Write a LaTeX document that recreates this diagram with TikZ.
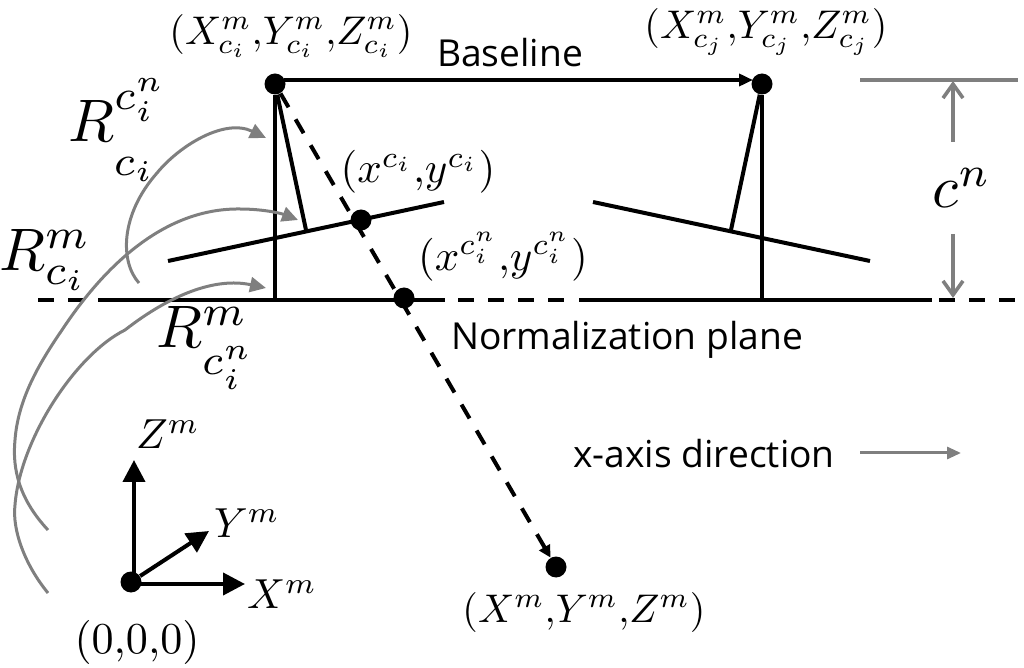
\documentclass[tikz,border=0pt]{standalone}
\usepackage[no-math]{fontspec}
\setsansfont{Open Sans}
\usetikzlibrary{
    arrows.meta,
    positioning,
    calc
}
\definecolor{arrowgray}{HTML}{7F7F7F}
\tikzset{
  dot/.style = {
      circle,
      fill=black,
      minimum size=10.5pt,
      inner sep=0pt
  },
  beam/.style = {
      line width=2pt,
      black
  },
  planedash/.style = {
      beam,
      dash pattern=on 8pt off 7pt
  },
  ray/.style = {
      beam,
      dash pattern=on 8pt off 7pt,
      -{Triangle[length=6pt,width=6pt]}
  },
  axis/.style = {
      beam,
      -{Triangle[length=11pt,width=11pt]}
  },
  graybeam/.style = {
      line width=2pt,
      arrowgray
  },
  sizearrow/.style = {
      graybeam,
      -{Straight Barb[length=7pt,width=10pt,line width=1.8pt]}
  },
  rotation/.style = {
      line width=1.5pt,
      arrowgray,
      -{Triangle[length=8pt,width=7.5pt]}
  },
  coordtext/.style = {
      scale=2,
      inner sep=0pt
  },
  imgtext/.style = {
      scale=2.15,
      inner sep=0pt
  },
  rottext/.style = {
      scale=3,
      inner sep=0pt
  },
  axistext/.style = {
      scale=2.1,
      inner sep=0pt
  },
  plaintext/.style = {
      font=\sffamily\fontsize{18.6}{22}\selectfont,
      inner sep=0pt
  }
}

\begin{document}
\begin{tikzpicture}[x=0.5pt,y=-0.5pt]
    \useasboundingbox (0,0) rectangle (1024,668);
    % Nodes
    \node[dot] (ci) at (275,84) {};
    \node[dot] (cj) at (762,84) {};
    \node[dot] (pimg) at (361,220) {};
    \node[dot] (pnorm) at (404,298) {};
    \node[dot] (pworld) at (556,567) {};
    \node[dot] (origin) at (131,582) {};
    \coordinate (basestart) at (284,80);
    \coordinate (baseend) at (753,80);
    \coordinate (footi) at (275,300);
    \coordinate (footj) at (762,300);
    \coordinate (axisi) at (306,230);
    \coordinate (axisj) at (731,230);
    \coordinate (planeil) at (168,261);
    \coordinate (planeir) at (444,202);
    \coordinate (planejl) at (593,202);
    \coordinate (planejr) at (870,261);
    \coordinate (normA) at (38,300);
    \coordinate (normB) at (98,300);
    \coordinate (normC) at (445,300);
    \coordinate (dashC) at (458,300);
    \coordinate (dashD) at (566,300);
    \coordinate (normD) at (579,300);
    \coordinate (normE) at (932,300);
    \coordinate (dashE) at (939,300);
    \coordinate (normF) at (1016,300);
    \coordinate (topl) at (860,80);
    \coordinate (topr) at (1018,80);
    \coordinate (sizeupa) at (953,142);
    \coordinate (sizeupb) at (953,81);
    \coordinate (sizedna) at (953,234);
    \coordinate (sizednb) at (953,298);
    \coordinate (zend) at (134,460);
    \coordinate (yend) at (209,531);
    \coordinate (xend) at (245,584);
    \coordinate (zstart) at (134,582);
    \coordinate (xstart) at (131,584);
    \node[coordtext] (lci) at (291,36) {$(X_{c_i}^m{,}Y_{c_i}^m{,}Z_{c_i}^m)$};
    \node[coordtext] (lcj) at (766,32) {$(X_{c_j}^m{,}Y_{c_j}^m{,}Z_{c_j}^m)$};
    \node[imgtext] (limg) at (418,172) {$(x^{c_i}{,}y^{c_i})$};
    \node[imgtext] (lnorm) at (503,257) {$(x^{c_i^n}{,}y^{c_i^n})$};
    \node[coordtext] (lworld) at (584,612) {$(X^m{,}Y^m{,}Z^m)$};
    \node[plaintext] (baseline) at (510,53) {Baseline};
    \node[plaintext] (normplane) at (627,340) {Normalization plane};
    \node[plaintext] (xdir) at (704,454) {x-axis direction};
    \coordinate (xdirstart) at (860,453);
    \coordinate (xdirend) at (961,453);
    \node[rottext] (rone) at (118,130) {$R^{c_i^n\rule[-1.5pt]{0pt}{1pt}}_{c_i\rule{0pt}{7.5pt}}$};
    \node[rottext] (rtwo) at (45,260) {$R_{c_i}^m$};
    \node[rottext] (rthree) at (206,348) {$R^m_{c_i^n\rule{0pt}{6.5pt}}$};
    \node[rottext] (cn) at (962,188) {$c^n$};
    \node[axistext] (lz) at (168,434) {$Z^m$};
    \node[axistext] (ly) at (247,523) {$Y^m$};
    \node[axistext] (lx) at (282,594) {$X^m$};
    \node[axistext, scale=1.05] (lorigin) at (137,642) {$(0{,}0{,}0)$};
    \coordinate (ronestart) at (139,283);
    \coordinate (roneend) at (266,138);
    \coordinate (rtwostart) at (48,530);
    \coordinate (rtwoend) at (298,220);
    \coordinate (rthreestart) at (48,593);
    \coordinate (rthreeend) at (266,288);
    % Edges
    \draw[beam, -{Triangle[length=7pt,width=6pt]}] (basestart) -- (baseend);
    \draw[beam] (ci) -- (footi);
    \draw[beam] (cj) -- (footj);
    \draw[beam] (ci) -- (axisi);
    \draw[beam] (cj) -- (axisj);
    \draw[beam] (planeil) -- (planeir);
    \draw[beam] (planejl) -- (planejr);
    \draw[planedash] (normA) -- (normB);
    \draw[beam] (normB) -- (normC);
    \draw[planedash] (dashC) -- (dashD);
    \draw[beam] (normD) -- (normE);
    \draw[planedash] (dashE) -- (normF);
    \draw[ray] (ci) -- (pworld);
    \draw[axis] (zstart) -- (zend);
    \draw[axis] (origin) -- (yend);
    \draw[axis] (xstart) -- (xend);
    \draw[graybeam] (topl) -- (topr);
    \draw[sizearrow] (sizeupa) -- (sizeupb);
    \draw[sizearrow] (sizedna) -- (sizednb);
    \draw[rotation, -{Triangle[length=7pt,width=6pt]}] (xdirstart) -- (xdirend);
    \draw[rotation] (ronestart) .. controls (120,262) and (120,215) .. (157,173)
        .. controls (180,145) and (225,118) .. (roneend);
    \draw[rotation] (rtwostart) .. controls (20,500) and (12,470) .. (15,440)
        .. controls (18,400) and (38,365) .. (62,330)
        .. controls (105,265) and (165,208) .. (240,209)
        .. controls (262,209) and (280,213) .. (rtwoend);
    \draw[rotation] (rthreestart) .. controls (25,565) and (12,530) .. (15,505)
        .. controls (20,440) and (75,355) .. (125,330)
        .. controls (170,295) and (215,277) .. (rthreeend);
\end{tikzpicture}
\end{document}
